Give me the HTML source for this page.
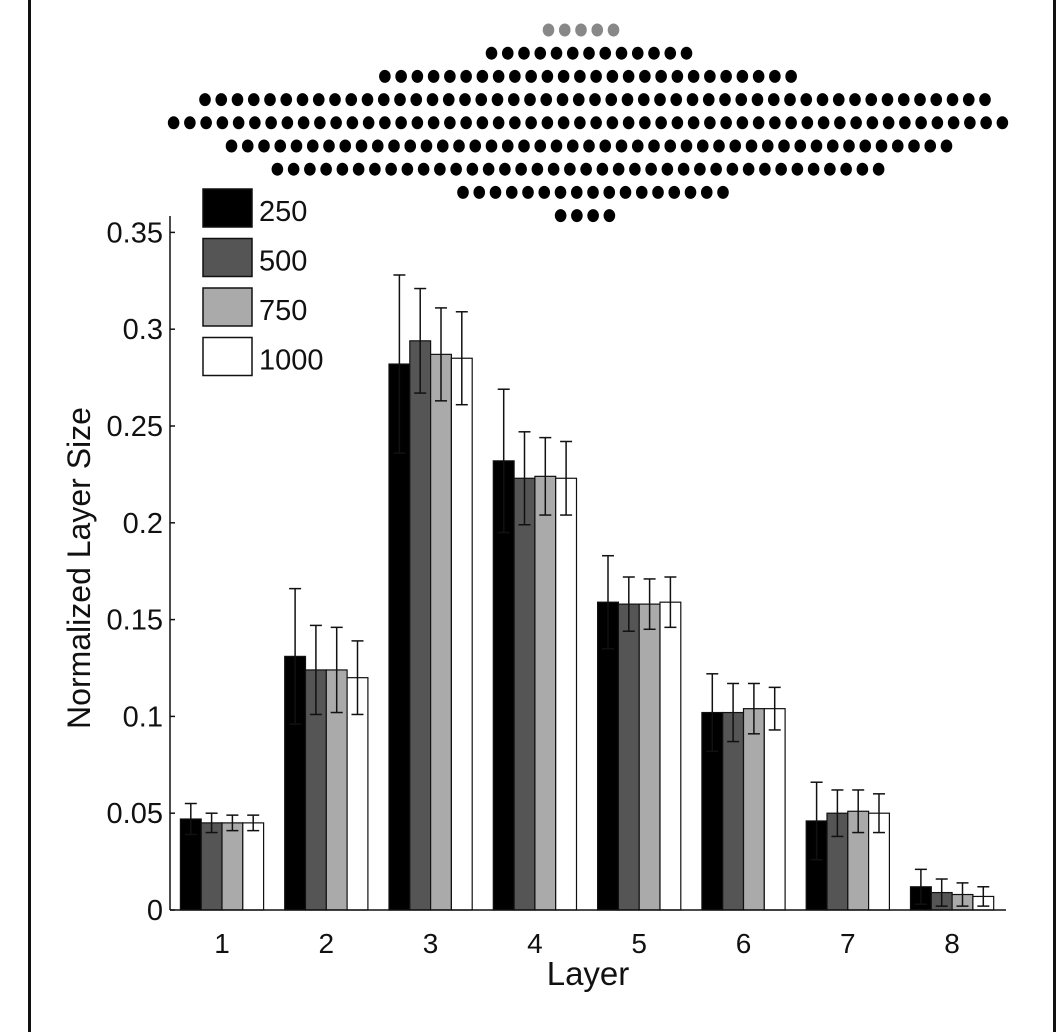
<!DOCTYPE html>
<html><head><meta charset="utf-8"><style>
html,body{margin:0;padding:0;background:#fff;}
svg{display:block;font-family:"Liberation Sans",sans-serif;}
</style></head><body>
<svg id="chart" width="1062" height="1032">
<rect x="28" y="0" width="3" height="1032" fill="#111"/>
<rect x="1053" y="0" width="3" height="1032" fill="#111"/>
<g id="dots"></g>
<g id="bars"></g>
<g id="axes"></g>
<g id="legend"></g>
<text x="0" y="0" transform="translate(90,568) rotate(-90)" text-anchor="middle" font-size="32" fill="#111">Normalized Layer Size</text>
<text x="588" y="985" text-anchor="middle" font-size="33" fill="#111">Layer</text>
</svg>
<script>
const categories = ['1','2','3','4','5','6','7','8'];
const seriesNames = ['250','500','750','1000'];
const s250 = [0.047,0.131,0.282,0.232,0.159,0.102,0.046,0.012];
const s500 = [0.045,0.124,0.294,0.223,0.158,0.102,0.050,0.009];
const s750 = [0.045,0.124,0.287,0.224,0.158,0.104,0.051,0.008];
const s1000 = [0.045,0.120,0.285,0.223,0.159,0.104,0.050,0.007];
const e250 = [0.008,0.035,0.046,0.037,0.024,0.020,0.020,0.009];
const e500 = [0.005,0.023,0.027,0.024,0.014,0.015,0.012,0.007];
const e750 = [0.004,0.022,0.024,0.020,0.013,0.013,0.011,0.006];
const e1000 = [0.004,0.019,0.024,0.019,0.013,0.011,0.010,0.005];
const yTicks = [0,0.05,0.1,0.15,0.2,0.25,0.3,0.35];
const yTickLabels = ['0','0.05','0.1','0.15','0.2','0.25','0.3','0.35'];
const dotRows = [5,13,26,49,52,45,38,17,4];
const rowCenters = [581,589,588,595,588,589,578,593,585];
const NS='http://www.w3.org/2000/svg';
const colors=['#000','#555','#aaa','#fff'];
const series=[s250,s500,s750,s1000], errs=[e250,e500,e750,e1000];
function y(v){return 910 - v/0.05*96.8;}
function xc(i){return 222 + i*104.3;}
function mk(tag,attrs,parent){const e=document.createElementNS(NS,tag);for(const k in attrs)e.setAttribute(k,attrs[k]);parent.appendChild(e);return e;}
const dg=document.getElementById('dots');
dotRows.forEach((n,r)=>{
  const cy=30+r*23.2, pitch=16.25, w=(n-1)*pitch;
  for(let k=0;k<n;k++){
    const c=mk('ellipse',{cx:rowCenters[r]-w/2+k*pitch,cy:cy,rx:5.8,ry:6.5,fill:r===0?'#888':'#000'},dg);
    
    
  }
});
const bg=document.getElementById('bars');
const bw=20.8;
categories.forEach((c,i)=>{
  series.forEach((s,j)=>{
    const x0=xc(i)-2*bw+j*bw;
    const r=mk('rect',{x:x0,y:y(s[i]),width:bw,height:910-y(s[i]),fill:colors[j],stroke:'#111','stroke-width':1.2},bg);
    
    
  });
  series.forEach((s,j)=>{
    const cx=xc(i)-2*bw+j*bw+bw/2, hi=y(s[i]+errs[j][i]), lo=y(s[i]-errs[j][i]);
    const g=mk('g',{stroke:'#111','stroke-width':1.5},bg);
    
    
    mk('line',{x1:cx,x2:cx,y1:hi,y2:lo},g);
    mk('line',{x1:cx-6,x2:cx+6,y1:hi,y2:hi},g);
    mk('line',{x1:cx-6,x2:cx+6,y1:lo,y2:lo},g);
  });
});
const ag=document.getElementById('axes');
mk('line',{x1:170,x2:170,y1:216,y2:910,stroke:'#111','stroke-width':1.5},ag);
mk('line',{x1:170,x2:1006,y1:910,y2:910,stroke:'#111','stroke-width':1.5},ag);
yTicks.forEach((v,k)=>{
  mk('line',{x1:170,x2:175,y1:y(v),y2:y(v),stroke:'#111','stroke-width':1.5},ag);
  const t=mk('text',{x:163,y:y(v)+10,'text-anchor':'end','font-size':29,fill:'#111'},ag);
  t.textContent=yTickLabels[k];
  
  
});
categories.forEach((c,i)=>{
  const t=mk('text',{x:xc(i),y:953,'text-anchor':'middle','font-size':28,fill:'#111'},ag);
  t.textContent=c;
  
  
});
const lg=document.getElementById('legend');
seriesNames.forEach((n,j)=>{
  const g=mk('g',{},lg);
  
  
  mk('rect',{x:203,y:189+j*49.5,width:49,height:38,fill:colors[j],stroke:'#111','stroke-width':1.5},g);
  const t=mk('text',{x:259,y:221+j*49.5,'font-size':29,fill:'#111'},g);
  t.textContent=n;
});
</script>
</body></html>
